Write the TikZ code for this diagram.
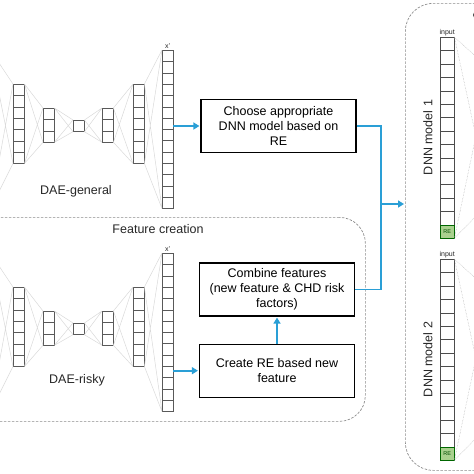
\documentclass[tikz,border=0pt]{standalone}
\usepackage{fontspec}
\setmainfont{Liberation Sans}
\usetikzlibrary{positioning,arrows.meta}

\definecolor{flowblue}{HTML}{2A9FD6}
\definecolor{regreen}{HTML}{A9D18E}

% one column of cells: name, x, y (top), number of cells
\newcommand{\daelayer}[4]{%
	\foreach \k in {1,...,#4}
		\node[cell,anchor=north west] at (#2,{#3+(\k-1)*11.3}) {};
	\node[anchor=north west,inner sep=0pt,minimum width=11pt,minimum height=#4*11.3pt] (#1) at (#2,#3) {};}
\newcommand{\links}[3][link]{%
	\draw[#1] (#2.north east) -- (#3.north west) (#2.north east) -- (#3.south west)
		(#2.south east) -- (#3.north west) (#2.south east) -- (#3.south west);}

\begin{document}
\begin{tikzpicture}[x=1pt,y=-1pt,
				cell/.style={draw=black!65,line width=0.6pt,inner sep=0pt,
									minimum width=11pt,minimum height=11.3pt},
				incell/.style={draw=black!70,line width=0.6pt,inner sep=0pt,
									minimum width=14pt,minimum height=13.4pt},
				recell/.style={incell,fill=regreen,draw=green!40!black,text=green!30!black,
									font=\fontsize{5.5}{6}\selectfont},
				link/.style={black!15,line width=0.5pt},
				dnnlink/.style={black!30,line width=0.5pt,densely dotted},
				proc/.style={draw,line width=1.2pt,minimum width=155pt,minimum height=53pt,
									align=center,font=\fontsize{12.5}{15}\selectfont},
				group/.style={draw=black!45,dash pattern=on 2.5pt off 1.5pt,line width=0.7pt,inner sep=0pt},
				flow/.style={flowblue,line width=1.9pt,shorten >=1pt,-{Triangle[length=6pt,width=7pt]}},
				flowline/.style={flowblue,line width=1.9pt},
				lbl/.style={font=\fontsize{12.5}{15}\selectfont,text=black!85},
				note/.style={font=\fontsize{7}{8}\selectfont,inner sep=1pt,text=black!85}]
\path[ use as bounding box ] (0,0) rectangle (474,474);
\clip (0,0) rectangle (474,474);

	\foreach \g/\dy in {gen/0,risk/203}{
		\daelayer{\g-in}{-21}{50+\dy}{14}
		\daelayer{\g-a}{13}{84+\dy}{7}
		\daelayer{\g-b}{43}{108+\dy}{3}
		\daelayer{\g-c}{73}{120+\dy}{1}
		\daelayer{\g-d}{102}{108+\dy}{3}
		\daelayer{\g-e}{133}{84+\dy}{7}
		\daelayer{\g-f}{162}{50+\dy}{14}
		\links{\g-in}{\g-a}
		\links{\g-a}{\g-b}
		\links{\g-b}{\g-c}
		\links{\g-c}{\g-d}
		\links{\g-d}{\g-e}
		\links{\g-e}{\g-f}
		\node[note,above=0pt of \g-f] (\g-x) {x'};
	}
	\node[lbl] (genlbl) at (76,191) {DAE-general};
	\node[lbl] (risklbl) at (77,380) {DAE-risky};

	\node[group,rounded corners=26pt,anchor=north west,minimum width=395pt,
		minimum height=204pt] (feat) at (-30,217) {};
	\node[lbl] (featlbl) at (158,229) {Feature creation};

	\node[proc] (choose) at (278.5,126) {Choose appropriate\\DNN model based on\\RE};
	\node[proc] (combine) at (277,289.5) {Combine features\\(new feature \& CHD risk\\factors)};
	\node[proc] (create) [below=27pt of combine] {Create RE based new\\feature};

	\node[group,rounded corners=28pt,anchor=north west,minimum width=110pt,
		minimum height=467pt] (dnn) at (405,3) {};

	\foreach \m/\dy in {1/0,2/222}{
		\foreach \k in {1,...,14}
			\node[incell,anchor=north west] at (440,{37+\dy+(\k-1)*13.4}) {};
		\node[recell,anchor=north west] (re\m) at (440,{37+\dy+14*13.4}) {RE};
		\node[anchor=north west,inner sep=0pt,minimum width=14pt,
			minimum height=201pt] (col\m) at (440,37+\dy) {};
		\node[note,above=0pt of col\m] (in\m) {input};
		\node[anchor=north west,inner sep=0pt,minimum width=11pt,
			minimum height=132pt] (hid\m) at (490,69+\dy) {};
		\links[dnnlink]{col\m}{hid\m}
		\node[lbl,rotate=90] (name\m) at (428,137.5+\dy) {DNN model \m};
	}
	\fill[black!75] (477,15) circle (4pt);

	\coordinate (junc) at (381,204);
	\draw[flow] (gen-f.east |- choose.west) -- (choose.west);
	\draw[flow] (risk-f.east |- create.west) -- (create.west);
	\draw[flow] (create) -- (combine);
	\draw[flowline] (choose.east) -| (junc) (combine.east) -| (junc);
	\draw[flow] (junc) -- (junc -| dnn.west);
\end{tikzpicture}
\end{document}
